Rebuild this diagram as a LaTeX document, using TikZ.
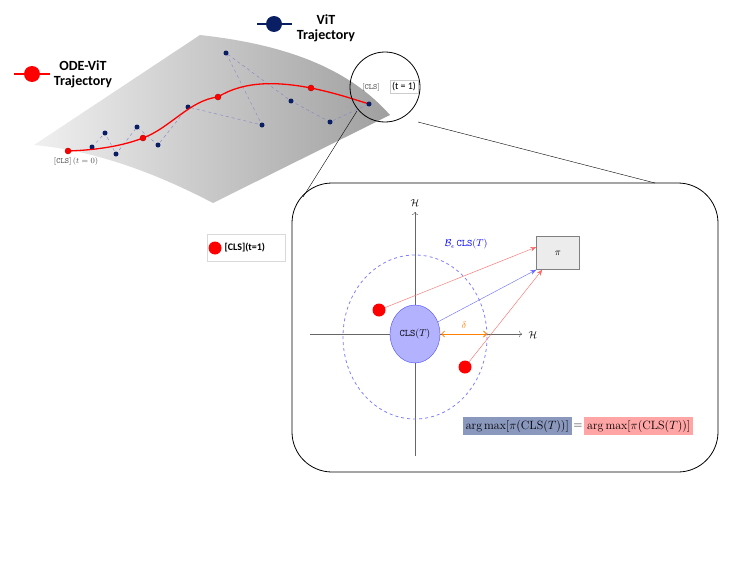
\documentclass[tikz,border=0pt]{standalone}
\usepackage{fontspec}
\newfontfamily\sansf{Carlito}
\usetikzlibrary{arrows.meta,shapes.geometric}
\definecolor{vitblue}{RGB}{10,30,100}
\definecolor{lhs}{RGB}{138,152,190}
\definecolor{rhs}{RGB}{255,165,165}
\tikzset{
 bdot/.style={circle,fill=vitblue,inner sep=0pt,minimum size=5pt},
 rdot/.style={circle,fill=red,draw=red!70!black,inner sep=0pt,minimum size=6pt},
 bigr/.style={circle,fill=red,inner sep=0pt,minimum size=13pt},
 leg/.style={font=\sansf\bfseries\fontsize{14}{15}\selectfont,align=center},
 arr/.style={-{Stealth[length=6pt]},thin},
}
\begin{document}
\begin{tikzpicture}[x=1pt,y=-1pt]
\useasboundingbox (0,0) rectangle (734,562);
% surface
\shade[left color=gray!12,right color=gray!75] (34,145) -- (200,35) .. controls (290,45) and (350,70) .. (390,115) -- (213,203) .. controls (150,170) and (90,150) .. (34,145) -- cycle;
% ViT path
\coordinate (b1) at (92,147); \coordinate (b2) at (105,133); \coordinate (b3) at (116,154);
\coordinate (b4) at (137,127); \coordinate (b5) at (158,145); \coordinate (b6) at (188,107);
\coordinate (b7) at (262,125); \coordinate (b8) at (226,53); \coordinate (b9) at (291,101);
\coordinate (b10) at (330,122); \coordinate (b11) at (369,104);
\draw[dashed,blue!40!gray!70,thin] (b1)--(b2)--(b3)--(b4)--(b5)--(b6)--(b7)--(b8)--(b9)--(b10)--(b11);
\foreach \n in {b1,b2,b3,b4,b5,b6,b7,b8,b9,b10}
 \node[bdot] at (\n) {};
% ODE path
\coordinate (r1) at (68,151); \coordinate (r2) at (143,138); \coordinate (r3) at (218,97); \coordinate (r4) at (311,88);
\draw[red,line width=1.3pt] (r1) .. controls (100,150) and (125,145) .. (r2) .. controls (170,128) and (190,100) .. (r3) .. controls (245,80) and (280,82) .. (r4) .. controls (335,93) and (350,98) .. (b11);
\foreach \n in {r1,r2,r3,r4} \node[rdot] at (\n) {};
\node[bdot] at (b11) {};
\node[font=\footnotesize,text=gray!60!black] (t0) at (76,161) {$\mathtt{[CLS]}\,(t=0)$};
% legends
\draw[red,line width=2.5pt] (14,74) -- (50,74);
\node[bigr,minimum size=16pt] (lr) at (32,74) {};
\node[leg] (lrt) at (83,74) {ODE-ViT\\Trajectory};
\draw[vitblue,line width=2.5pt] (257,24) -- (292,24);
\node[circle,fill=vitblue,inner sep=0pt,minimum size=16pt] (lb) at (274,24) {};
\node[leg] (lbt) at (326,28) {ViT\\Trajectory};
% magnifier
\node[circle,draw,thick,minimum size=70pt,inner sep=0pt] (mag) at (385,87) {};
\node[font=\footnotesize,text=gray!60!black] (clsl) at (371,87) {$\mathtt{[CLS]}$};
\node[font=\sansf,draw=gray!40,fill=white,inner sep=2pt] (t1) at (404,87) {(t = 1)};
% zoom box
\draw[thick,rounded corners=40pt] (292,183) rectangle (718,472);
\coordinate (za) at (303,197); \coordinate (zb) at (655,183);
\draw (357,111) -- (za);
\draw (418,122) -- (zb);
% small legend
\node[draw=gray!30,fill=white,minimum width=78pt,minimum height=27pt] (lg) at (246,248) {};
\node[circle,fill=red,inner sep=0pt,minimum size=13pt] (lgd) at (215,248) {};
\node[font=\sansf\bfseries,anchor=west] (lgt) at (221,248) {[CLS](t=1)};
% axes
\coordinate (vb) at (415,456); \coordinate (vt) at (415,212);
\coordinate (hl) at (310,334); \coordinate (hr) at (522,334);
\draw[gray!80!black,-{To[length=3pt]}] (vb) -- (vt);
\draw[gray!80!black,-{To[length=3pt]}] (hl) -- (hr);
\node (h1) at (415,203) {$\mathcal H$};
\node (h2) at (533,335) {$\mathcal H$};
\draw[blue!50,dashed,thick] (415,337) ellipse [x radius=72,y radius=82];
\node[blue] (beps) at (466,244) {$\mathcal B_\epsilon\,\mathtt{CLS}(T)$};
\node[ellipse,draw=blue!70,fill=blue!30,minimum width=50pt,minimum height=58pt,inner sep=0pt] (cls) at (415,334) {$\mathtt{CLS}(T)$};
\node[draw=gray,fill=gray!15,minimum width=43pt,minimum height=33pt] (pi) at (558,253) {$\pi$};
\node[circle,fill=red,inner sep=0pt,minimum size=13pt] (p1) at (379,310) {};
\node[circle,fill=red,inner sep=0pt,minimum size=13pt] (p2) at (465,367) {};
\draw[arr,red!60] (p1) -- ([yshift=6pt]pi.west);
\draw[arr,blue!60] (cls) -- (pi.south west);
\draw[arr,red!60] (p2) -- ([xshift=6pt]pi.south west);
\coordinate (d1) at (441,334); \coordinate (d2) at (487,334);
\draw[orange,thick,{Straight Barb[length=3pt]}-{Straight Barb[length=3pt]}] (d1) -- (d2);
\node[orange] (del) at (464,325) {$\delta$};
\node[fill=lhs,inner sep=3pt,font=\large,anchor=east] (eqa) at (572,426) {$\arg\max[\pi(\mathrm{CLS}(T))]$};
\node[font=\large,inner sep=1pt] (eqe) at (578,426) {$=$};
\node[fill=rhs,inner sep=3pt,font=\large,anchor=west] (eqb) at (584,426) {$\arg\max[\pi(\mathrm{CLS}(T))]$};
\end{tikzpicture}
\end{document}
